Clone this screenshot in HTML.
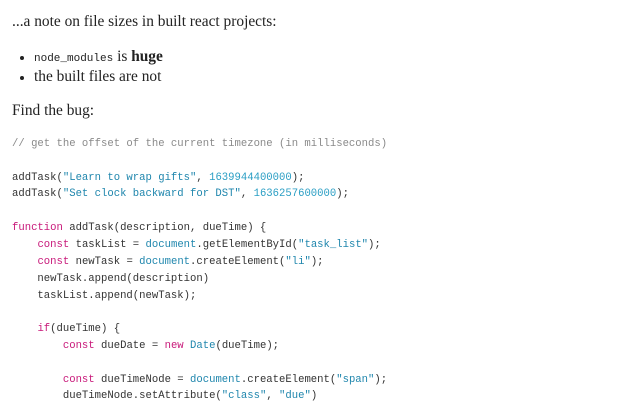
<!DOCTYPE html>
<html><head><meta charset="utf-8"><style>
body{margin:0;width:640px;height:400px;background:#fff;overflow:hidden;position:relative;color:#222}
.s{position:absolute;left:12px;font-family:"Liberation Serif",serif;font-size:15.4px;white-space:nowrap}
.c{position:absolute;left:12px;font-family:"Liberation Mono",monospace;font-size:10.6px;white-space:pre;color:#333;line-height:14px}
.k{color:#c8197a}.b{color:#1f86ad}.n{color:#2a9ec4}.g{color:#8a8a8a}
.m{font-family:"Liberation Mono",monospace;font-size:11px}
.dot{position:absolute;left:20px;width:4px;height:4px;border-radius:50%;background:#222}
</style></head><body>
<div class="s" style="top:13px">...a note on file sizes in built react projects:</div>
<div class="dot" style="top:56px"></div>
<div class="s" style="top:48px;left:34px"><span class="m">node_modules</span> is <b>huge</b></div>
<div class="dot" style="top:76px"></div>
<div class="s" style="top:68px;left:34px">the built files are not</div>
<div class="s" style="top:102px">Find the bug:</div>
<div class="c g" style="top:137px">// get the offset of the current timezone (in milliseconds)</div>
<div class="c" style="top:171px">addTask(<span class="b">"Learn to wrap gifts"</span>, <span class="n">1639944400000</span>);</div>
<div class="c" style="top:187px">addTask(<span class="b">"Set clock backward for DST"</span>, <span class="n">1636257600000</span>);</div>
<div class="c" style="top:221px"><span class="k">function</span> addTask(description, dueTime) {</div>
<div class="c" style="top:238px">    <span class="k">const</span> taskList = <span class="b">document</span>.getElementById(<span class="b">"task_list"</span>);</div>
<div class="c" style="top:255px">    <span class="k">const</span> newTask = <span class="b">document</span>.createElement(<span class="b">"li"</span>);</div>
<div class="c" style="top:272px">    newTask.append(description)</div>
<div class="c" style="top:289px">    taskList.append(newTask);</div>
<div class="c" style="top:322px">    <span class="k">if</span>(dueTime) {</div>
<div class="c" style="top:339px">        <span class="k">const</span> dueDate = <span class="k">new</span> <span class="b">Date</span>(dueTime);</div>
<div class="c" style="top:373px">        <span class="k">const</span> dueTimeNode = <span class="b">document</span>.createElement(<span class="b">"span"</span>);</div>
<div class="c" style="top:389px">        dueTimeNode.setAttribute(<span class="b">"class"</span>, <span class="b">"due"</span>)</div>
</body></html>
